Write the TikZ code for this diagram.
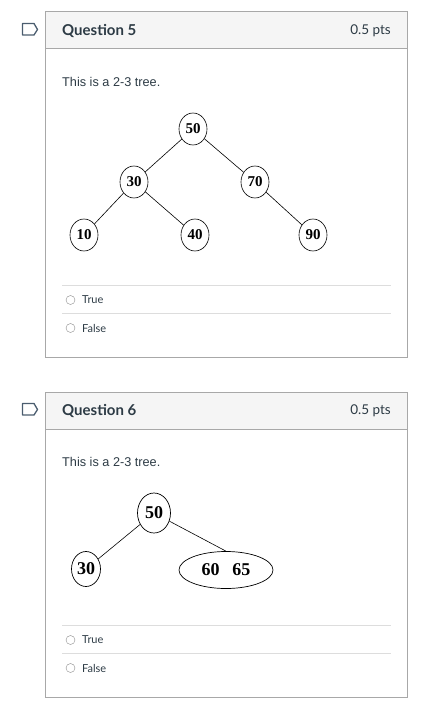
\documentclass[tikz,border=0pt]{standalone}
\usepackage{fontspec}
\setmainfont{Lato}
\newfontfamily\arialfont{Liberation Sans}
\newfontfamily\timesfont{Liberation Serif}
\usetikzlibrary{shapes}
\definecolor{canvastext}{HTML}{2D3B45}
\definecolor{panelline}{HTML}{A8A8A8}
\definecolor{headergray}{HTML}{F5F5F5}
\definecolor{sepline}{HTML}{DDDDDD}
\definecolor{radiogray}{HTML}{8A8A8A}
\definecolor{flagblue}{HTML}{4B5D6F}
\tikzstyle{title}=[anchor=west,inner sep=0pt,text=canvastext,font=\bfseries\fontsize{15}{15}\selectfont]
\tikzstyle{points}=[anchor=east,inner sep=0pt,text=canvastext,font=\fontsize{13.5}{13.5}\selectfont]
\tikzstyle{prompt}=[anchor=west,inner sep=0pt,text=canvastext,font=\arialfont\fontsize{12.7}{12.7}\selectfont]
\tikzstyle{radio}=[circle,draw=radiogray,minimum size=9pt,inner sep=0pt]
\tikzstyle{answer}=[anchor=west,inner sep=0pt,text=canvastext,font=\fontsize{11}{11}\selectfont]
\tikzstyle{treenode}=[ellipse,draw,line width=0.6pt,minimum width=28pt,minimum height=32pt,inner sep=0pt,font=\timesfont\bfseries\fontsize{15}{15}\selectfont]
\tikzstyle{bignode}=[ellipse,draw,line width=0.7pt,minimum width=33pt,minimum height=40pt,inner sep=0pt,font=\timesfont\bfseries\fontsize{18}{18}\selectfont]
\tikzstyle{treeedge}=[draw,line width=0.6pt]

\begin{document}
\begin{tikzpicture}[x=1pt,y=-1pt]
    \useasboundingbox (0,0) rectangle (433,709);

    % Draw the two question panels
    \foreach \top/\bot/\num in {12/357.5/5, 392/697.5/6} {
        \path[fill=headergray] (45,\top) rectangle (407,\top+37);
        \draw[panelline,line width=1pt] (45,\top) rectangle (407,\bot);
        \draw[panelline,line width=1pt] (45,\top+37) -- (407,\top+37);
        \draw[flagblue,line width=1.3pt,line join=round]
            (22.5,\top+11.5) -- (34,\top+11.5) -- (37.5,\top+17.5) -- (34,\top+23) -- (22.5,\top+23) -- cycle;
        \node[title] (title\num) at (62,\top+18.5) {Question \num};
        \node[points] (pts\num) at (391,\top+18.5) {0.5 pts};
        \node[prompt] (prompt\num) at (62,\top+70) {This is a 2-3 tree.};
        % answer rows
        \draw[sepline] (62,\bot-72.5) -- (391,\bot-72.5);
        \draw[sepline] (62,\bot-44) -- (391,\bot-44);
        \node[radio] (radT\num) at (70.5,\bot-57.5) {};
        \node[answer] (true\num) at (82,\bot-57.5) {True};
        \node[radio] (radF\num) at (70.5,\bot-29.5) {};
        \node[answer] (false\num) at (82,\bot-29.5) {False};
    }

    % First tree
    \foreach \pos/\name/\label in {{(193,129)/a50/50}, {(134,182)/a30/30}, {(255,182)/a70/70},
                                   {(84,235)/a10/10}, {(195,235)/a40/40}, {(313,235)/a90/90}}
        \node[treenode] (\name) at \pos {\label};

    \foreach \source/\dest in {a50/a30, a50/a70, a30/a10, a30/a40, a70/a90}
        \path[treeedge] (\source) -- (\dest);

    % Second tree
    \node[bignode] (b50) at (154,513) {50};
    \node[bignode,minimum width=29pt,minimum height=35pt] (b30) at (86,569) {30};
    \node[bignode,minimum width=94pt,minimum height=37pt] (b6065) at (226,570) {60\hspace{0.7em}65};

    \path[treeedge] (b50) -- (b30);
    \path[treeedge] (b50) -- (b6065.north);
\end{tikzpicture}
\end{document}
